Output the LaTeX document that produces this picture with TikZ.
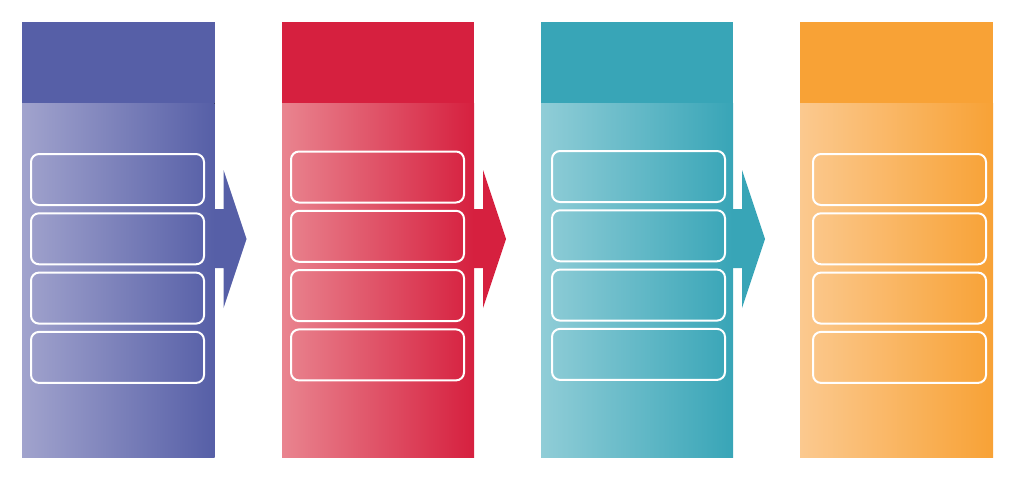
\documentclass[tikz,border=0pt]{standalone}
\definecolor{cA}{HTML}{565FA7}\definecolor{lA}{HTML}{A1A3CD}
\definecolor{cB}{HTML}{D6203F}\definecolor{lB}{HTML}{E9848F}
\definecolor{cC}{HTML}{38A5B7}\definecolor{lC}{HTML}{90CDD7}
\definecolor{cD}{HTML}{F8A236}\definecolor{lD}{HTML}{FBC98F}
\begin{document}
\begin{tikzpicture}[x=1pt,y=-1pt,
  box/.style={draw=white, line width=2pt, rounded corners=8pt,
    minimum width=173pt, minimum height=51pt, anchor=north west, inner sep=0pt}]
\useasboundingbox (0,0) rectangle (1024,477);
\foreach \i/\x/\c/\bx/\by/\e in {1/22/A/30/153/214.5, 2/282/B/290/150.5/474, 3/541/C/551/150/733, 4/800/D/812/153/993} {
  \fill[left color=l\c, right color=c\c] (\x,103) rectangle (\e,457);
  \fill[c\c] (\x,22) rectangle (\e,103);
  \foreach \j in {0,1,2,3}
    \node[box] (b\i\j) at (\bx,\by+59.3*\j) {};
  \ifnum\i<4
    \fill[c\c] (\e-0.5,209) -- (\e+9,209) -- (\e+9,170) -- (\e+32,239)
      -- (\e+9,308) -- (\e+9,268) -- (\e-0.5,268) -- cycle;
  \fi
}
\end{tikzpicture}
\end{document}
